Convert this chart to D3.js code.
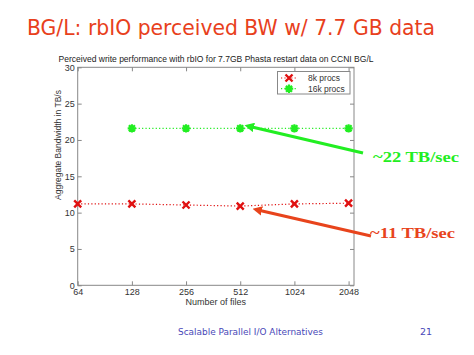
<!DOCTYPE html>
<html><head><meta charset="utf-8">
<script src="https://cdn.jsdelivr.net/npm/d3@7"></script>
<style>body{margin:0;background:#fff}svg{display:block}</style>
</head><body>
<svg id="c" width="474" height="355"></svg>
<script>
const files = [64, 128, 256, 512, 1024, 2048];
const procs8k = [11.2, 11.2, 11.05, 10.9, 11.2, 11.3];
const files16k = [128, 256, 512, 1024, 2048];
const procs16k = [21.6, 21.6, 21.6, 21.6, 21.6];
const yTicks = [0, 5, 10, 15, 20, 25, 30];
const seriesNames = ["8k procs", "16k procs"];

const svg = d3.select("#c");
const L = 77.7, R = 354, T = 67.3, B = 285.3;
const x = d3.scaleLog().base(2).domain([64, 2048 * Math.pow(2, 0.1)]).range([L, R]);
const y = d3.scaleLinear().domain([0, 30]).range([B, T]);

// Slide title
svg.append("text").attr("x", 27).attr("y", 35).attr("textLength", 408).attr("lengthAdjust", "spacingAndGlyphs")
  .style("font-family", "DejaVu Sans").style("font-size", "21px").attr("fill", "#e8401c")
  .text("BG/L: rbIO perceived BW w/ 7.7 GB data");

// Chart title
svg.append("text").attr("x", 216).attr("y", 62).attr("text-anchor", "middle")
  .attr("textLength", 315).attr("lengthAdjust", "spacingAndGlyphs")
  .style("font-family", "Liberation Sans").style("font-size", "8.5px").attr("fill", "#222")
  .text("Perceived write performance with rbIO for 7.7GB Phasta restart data on CCNI BG/L");

// Axes box
svg.append("rect").attr("x", L).attr("y", T).attr("width", R - L).attr("height", B - T)
  .attr("fill", "#fff").attr("stroke", "#888").attr("stroke-width", 1);

const axStyle = g => {
  g.select(".domain").remove();
  g.selectAll(".tick line").attr("stroke", "#888");
  g.selectAll(".tick text").style("font-family", "Liberation Sans").style("font-size", "9px").attr("fill", "#333");
};
svg.append("g").attr("transform", `translate(0,${B})`)
  .call(d3.axisBottom(x).tickValues(files).tickFormat(d3.format("d")).tickSize(-4).tickPadding(3)).call(axStyle);
svg.append("g").attr("transform", `translate(0,${T})`)
  .call(d3.axisTop(x).tickValues(files).tickFormat("").tickSize(-4)).call(axStyle);
svg.append("g").attr("transform", `translate(${L},0)`)
  .call(d3.axisLeft(y).tickValues(yTicks).tickSize(-4).tickPadding(3)).call(axStyle);
svg.append("g").attr("transform", `translate(${R},0)`)
  .call(d3.axisRight(y).tickValues(yTicks).tickFormat("").tickSize(-4)).call(axStyle);

// Axis labels
svg.append("text").attr("x", (L + R) / 2).attr("y", 305).attr("text-anchor", "middle")
  .style("font-family", "Liberation Sans").style("font-size", "9px").attr("fill", "#333").text("Number of files");
svg.append("text").attr("transform", `translate(60.5,145) rotate(-90)`).attr("text-anchor", "middle")
  .attr("textLength", 110).attr("lengthAdjust", "spacingAndGlyphs")
  .style("font-family", "Liberation Sans").style("font-size", "8.5px").attr("fill", "#333").text("Aggregate Bandwidth in TB/s");

// Series lines
const red = "#e01010", green = "#22ee22";
const line = d3.line().x(d => x(d[0])).y(d => y(d[1]));
const d8 = files.map((f, i) => [f, procs8k[i]]);
const d16 = files16k.map((f, i) => [f, procs16k[i]]);
svg.append("path").datum(d8).attr("d", line).attr("fill", "none").attr("stroke", red).attr("stroke-width", 1.2).attr("stroke-dasharray", "1.2,2.2");
svg.append("path").datum(d16).attr("d", line).attr("fill", "none").attr("stroke", green).attr("stroke-width", 1.2).attr("stroke-dasharray", "1.2,2.2");

const xMark = (g, cx, cy) => {
  const s = 3.5;
  g.append("path").attr("d", `M${cx - s},${cy - s}L${cx + s},${cy + s}M${cx - s},${cy + s}L${cx + s},${cy - s}`)
    .attr("stroke", red).attr("stroke-width", 2.4).attr("fill", "none");
};
const starMark = (g, cx, cy) => {
  const s = 4.2, t = s * 0.72;
  g.append("path").attr("d", `M${cx - s},${cy}L${cx + s},${cy}M${cx},${cy - s}L${cx},${cy + s}M${cx - t},${cy - t}L${cx + t},${cy + t}M${cx - t},${cy + t}L${cx + t},${cy - t}`)
    .attr("stroke", green).attr("stroke-width", 2.2).attr("fill", "none");
  g.append("circle").attr("cx", cx).attr("cy", cy).attr("r", 2.4).attr("fill", green);
};
const mk = svg.append("g");
d8.forEach(d => xMark(mk, x(d[0]), y(d[1])));
d16.forEach(d => starMark(mk, x(d[0]), y(d[1])));

// Legend
const lg = svg.append("g");
lg.append("rect").attr("x", 277.5).attr("y", 71.5).attr("width", 72.5).attr("height", 22.5)
  .attr("fill", "#fff").attr("stroke", "#888");
[[78, red, xMark], [88.7, green, starMark]].forEach(([ly, col, f], i) => {
  lg.append("line").attr("x1", 281).attr("x2", 297).attr("y1", ly).attr("y2", ly)
    .attr("stroke", col).attr("stroke-width", 1.2).attr("stroke-dasharray", "1.2,2.2");
  f(lg, 289, ly);
  lg.append("text").attr("x", 308).attr("y", ly + 3).style("font-family", "Liberation Sans").style("font-size", "8.5px")
    .attr("fill", "#333").text(seriesNames[i]);
});

// Annotation arrows
const defs = svg.append("defs");
[["ag", "#22ee22"], ["ar", "#e8441c"]].forEach(([id, c]) => {
  defs.append("marker").attr("id", id).attr("viewBox", "0 0 10 10").attr("refX", 2).attr("refY", 5)
    .attr("markerWidth", 3).attr("markerHeight", 3).attr("orient", "auto")
    .append("path").attr("d", "M0,0L10,5L0,10z").attr("fill", c);
});
svg.append("line").attr("x1", 363).attr("y1", 153).attr("x2", 252).attr("y2", 127)
  .attr("stroke", "#22ee22").attr("stroke-width", 3.2).attr("marker-end", "url(#ag)");
svg.append("line").attr("x1", 371).attr("y1", 236).attr("x2", 260).attr("y2", 210.5)
  .attr("stroke", "#e8441c").attr("stroke-width", 3.2).attr("marker-end", "url(#ar)");

svg.append("text").attr("x", 373).attr("y", 161.5).attr("textLength", 86).attr("lengthAdjust", "spacingAndGlyphs")
  .style("font-family", "Liberation Serif").style("font-weight", "bold").style("font-size", "15px").attr("fill", "#22ee22").text("~22 TB/sec");
svg.append("text").attr("x", 370).attr("y", 238).attr("textLength", 85).attr("lengthAdjust", "spacingAndGlyphs")
  .style("font-family", "Liberation Serif").style("font-weight", "bold").style("font-size", "15px").attr("fill", "#e8441c").text("~11 TB/sec");

// Footer
svg.append("text").attr("x", 178).attr("y", 335).attr("textLength", 145).attr("lengthAdjust", "spacingAndGlyphs")
  .style("font-family", "DejaVu Sans").style("font-size", "9.5px").attr("fill", "#4848b8").text("Scalable Parallel I/O Alternatives");
svg.append("text").attr("x", 420).attr("y", 335)
  .style("font-family", "DejaVu Sans").style("font-size", "9.5px").attr("fill", "#4848b8").text("21");
</script>
</body></html>
